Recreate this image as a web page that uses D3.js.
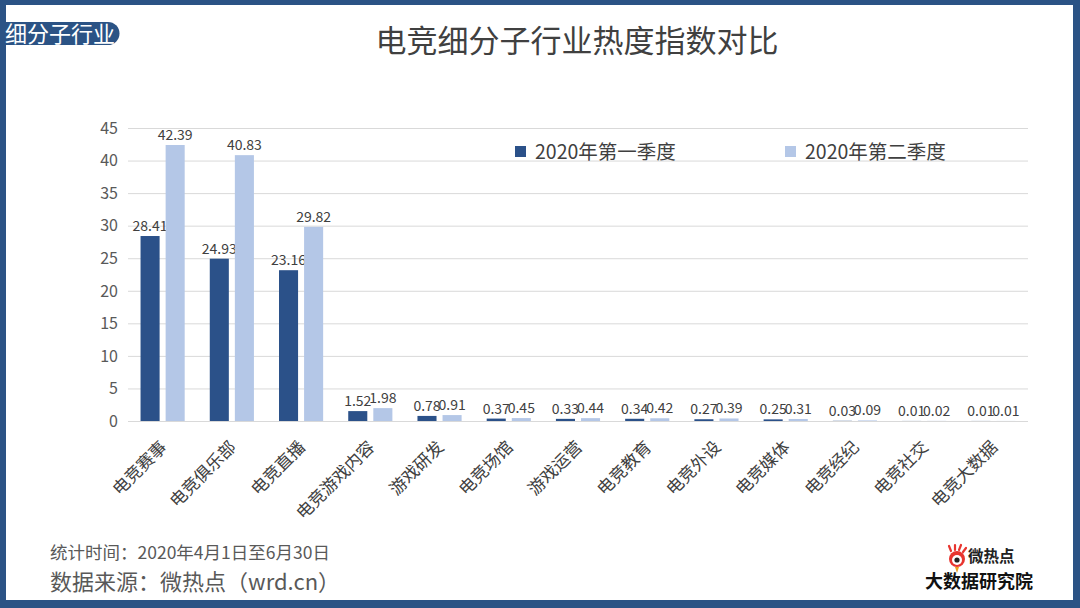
<!DOCTYPE html>
<html>
<head>
<meta charset="utf-8">
<script src="https://cdn.jsdelivr.net/npm/d3@7.9.0/dist/d3.min.js"></script>
<style>
  html, body { margin: 0; padding: 0; background: #fff; }
  svg { display: block; font-family: "Noto Sans CJK SC", "Noto Sans", sans-serif; }
</style>
</head>
<body>
<svg id="chart" width="1080" height="608"></svg>
<script>
const categories = ["电竞赛事", "电竞俱乐部", "电竞直播", "电竞游戏内容", "游戏研发", "电竞场馆",
  "游戏运营", "电竞教育", "电竞外设", "电竞媒体", "电竞经纪", "电竞社交", "电竞大数据"];
const q1Values = [28.41, 24.93, 23.16, 1.52, 0.78, 0.37, 0.33, 0.34, 0.27, 0.25, 0.03, 0.01, 0.01];
const q2Values = [42.39, 40.83, 29.82, 1.98, 0.91, 0.45, 0.44, 0.42, 0.39, 0.31, 0.09, 0.02, 0.01];
const seriesNames = ["2020年第一季度", "2020年第二季度"];
const yTicks = [0, 5, 10, 15, 20, 25, 30, 35, 40, 45];

const colors = ["#2b5189", "#b4c7e7"];
const frame = "#2b5385";
const textCol = "#404040";

const svg = d3.select("#chart");

// frame
svg.append("rect").attr("x", 0).attr("y", 0).attr("width", 1080).attr("height", 608).attr("fill", frame);
svg.append("rect").attr("x", 6).attr("y", 5).attr("width", 1067).attr("height", 595).attr("fill", "#fff");

// top-left tag
svg.append("path")
  .attr("d", "M0,22 H108 A11.5,11.5 0 0 1 108,45 H0 Z")
  .attr("fill", frame);
svg.append("text").attr("x", 5).attr("y", 42)
  .attr("font-size", 22).attr("fill", "#fff").text("细分子行业");

// title
svg.append("text").attr("x", 577).attr("y", 52).attr("text-anchor", "middle")
  .attr("font-size", 31).attr("fill", textCol).text("电竞细分子行业热度指数对比");

const plotL = 128, plotR = 1028, plotT = 128, plotB = 421;

const y = d3.scaleLinear().domain([0, 45]).range([plotB, plotT]);
const x0 = d3.scaleBand().domain(categories).range([plotL, plotR]);
const x1 = d3.scaleBand().domain([0, 1]).range([0, x0.bandwidth()]).paddingInner(0.24).paddingOuter(0.5);

// grid
svg.append("g").selectAll("line").data(yTicks).join("line")
  .attr("x1", plotL).attr("x2", plotR)
  .attr("y1", d => y(d) + 0.5).attr("y2", d => y(d) + 0.5)
  .attr("stroke", "#d9d9d9").attr("stroke-width", 1);

// y axis labels
svg.append("g").selectAll("text").data(yTicks).join("text")
  .attr("x", 118).attr("y", d => y(d)).attr("dy", "0.36em")
  .attr("text-anchor", "end").attr("font-size", 16).attr("fill", "#595959")
  .text(d => d);

// bars
const series = [q1Values, q2Values];
series.forEach((vals, si) => {
  const g = svg.append("g");
  g.selectAll("rect").data(vals).join("rect")
    .attr("x", (d, i) => x0(categories[i]) + x1(si))
    .attr("width", x1.bandwidth())
    .attr("y", d => y(d))
    .attr("height", d => plotB - y(d))
    .attr("fill", colors[si]);
  g.selectAll("text").data(vals).join("text")
    .attr("x", (d, i) => x0(categories[i]) + x1(si) + x1.bandwidth() / 2)
    .attr("y", d => y(d) - 5)
    .attr("text-anchor", "middle").attr("font-size", 14).attr("fill", textCol)
    .text(d => d.toFixed(2));
});

// x labels
svg.append("g").selectAll("text").data(categories).join("text")
  .attr("transform", d => `translate(${x0(d) + x0.bandwidth() / 2 + 1},${plotB + 23}) rotate(-45)`)
  .attr("text-anchor", "end").attr("dy", "0.35em")
  .attr("font-size", 17).attr("fill", textCol)
  .text(d => d);

// legend
const legendX = [515, 785];
seriesNames.forEach((name, i) => {
  svg.append("rect").attr("x", legendX[i]).attr("y", 146).attr("width", 11).attr("height", 11)
    .attr("fill", colors[i]);
  svg.append("text").attr("x", legendX[i] + 20).attr("y", 159)
    .attr("font-size", 19.5).attr("fill", textCol).text(name);
});

// footer
svg.append("text").attr("x", 50).attr("y", 559).attr("font-size", 17.5).attr("fill", "#595959")
  .text("统计时间：2020年4月1日至6月30日");
svg.append("text").attr("x", 50).attr("y", 590).attr("font-size", 22).attr("fill", "#595959")
  .text("数据来源：微热点（wrd.cn）");

// logo
const logo = svg.append("g");
logo.append("circle").attr("cx", 957).attr("cy", 559).attr("r", 8).attr("fill", "#e8352f");
logo.append("circle").attr("cx", 957).attr("cy", 560).attr("r", 5).attr("fill", "#fff");
logo.append("circle").attr("cx", 957).attr("cy", 560).attr("r", 2.6).attr("fill", "#222");
logo.append("path").attr("d", "M951,551 L949,546 M955,550 L955,545 M959,550 L961,545 M963,552 L966,548")
  .attr("stroke", "#e8352f").attr("stroke-width", 2.2).attr("stroke-linecap", "round");
logo.append("path").attr("d", "M955,567 L957,573 L959,567 Z").attr("fill", "#f0a020");
logo.append("text").attr("x", 968).attr("y", 562).attr("font-size", 15.5).attr("font-weight", 700)
  .attr("fill", "#222").text("微热点");
logo.append("text").attr("x", 925).attr("y", 588).attr("font-size", 18).attr("font-weight", 700)
  .attr("fill", "#111").text("大数据研究院");
</script>
</body>
</html>
